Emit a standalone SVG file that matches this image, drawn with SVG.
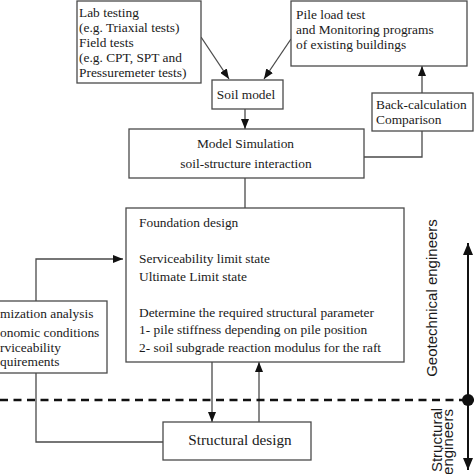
<svg xmlns="http://www.w3.org/2000/svg" width="474" height="474" viewBox="0 0 474 474">
<style>
.box{fill:#fff;stroke:#4a4a4a;stroke-width:1.3}
.t{font-family:"Liberation Serif","Times New Roman",serif;font-size:13.4px;fill:#1a1a1a}
.tm{text-anchor:middle}
.s{font-family:"Liberation Sans",Arial,sans-serif;font-size:15px;fill:#1a1a1a;text-anchor:middle}
.c{fill:none;stroke:#4a4a4a;stroke-width:1.3}
.ax{fill:none;stroke:#111;stroke-width:2}
</style>
<defs>
<marker id="ah" markerUnits="userSpaceOnUse" markerWidth="10" markerHeight="8" refX="10" refY="4" orient="auto">
<path d="M0,0 L10,4 L0,8 z" fill="#111"/>
</marker>
<marker id="ahb" markerUnits="userSpaceOnUse" markerWidth="12" markerHeight="10" refX="12" refY="5" orient="auto">
<path d="M0,0 L12,5 L0,10 z" fill="#111"/>
</marker>
</defs>
<rect width="474" height="474" fill="#fff"/>
<g id="connectors">
<line class="c" x1="201" y1="37" x2="229" y2="79" marker-end="url(#ah)"/>
<line class="c" x1="291" y1="39" x2="264" y2="79" marker-end="url(#ah)"/>
<line class="c" x1="245" y1="109" x2="245" y2="129" marker-end="url(#ah)"/>
<polyline class="c" points="364,157 422,157 422,131"/>
<line class="c" x1="422" y1="93" x2="422" y2="66" marker-end="url(#ah)"/>
<line class="c" x1="245" y1="178" x2="245" y2="208"/>
<polyline class="c" points="36,301 36,259 123,259" marker-end="url(#ah)"/>
<polyline class="c" points="36,373 36,442 163,442"/>
<line class="c" x1="212" y1="362" x2="212" y2="422" marker-end="url(#ah)"/>
<line class="c" x1="259" y1="422" x2="259" y2="362" marker-end="url(#ah)"/>
<line x1="0" y1="400" x2="474" y2="400" stroke="#111" stroke-width="2.5" stroke-dasharray="8,5.5"/>
<line class="ax" x1="468" y1="400" x2="468" y2="243" marker-end="url(#ahb)"/>
<line class="ax" x1="468" y1="400" x2="468" y2="470" marker-end="url(#ahb)"/>
<circle cx="468" cy="400" r="6" fill="#111"/>
</g>
<g id="lab">
<rect class="box" x="77" y="1" width="124" height="82"/>
<text class="t" x="79" y="17">Lab testing</text>
<text class="t" x="79" y="32">(e.g. Triaxial tests)</text>
<text class="t" x="79" y="47">Field tests</text>
<text class="t" x="79" y="62">(e.g. CPT, SPT and</text>
<text class="t" x="79" y="77">Pressuremeter tests)</text>
</g>
<g id="pile">
<rect class="box" x="291" y="1" width="176" height="65"/>
<text class="t" x="296" y="19">Pile load test</text>
<text class="t" x="296" y="34">and Monitoring programs</text>
<text class="t" x="296" y="49">of existing buildings</text>
</g>
<g id="soil">
<rect class="box" x="212" y="80" width="71" height="29"/>
<text class="t tm" x="246" y="99">Soil model</text>
</g>
<g id="backcalc">
<rect class="box" x="372" y="93" width="101" height="38"/>
<text class="t" x="376" y="109">Back-calculation</text>
<text class="t" x="376" y="124">Comparison</text>
</g>
<g id="modelsim">
<rect class="box" x="129" y="129" width="235" height="49"/>
<text class="t tm" x="245.5" y="148">Model Simulation</text>
<text class="t tm" x="246" y="168">soil-structure interaction</text>
</g>
<g id="foundation">
<rect class="box" x="126" y="208" width="278" height="154"/>
<text class="t" x="139" y="227">Foundation design</text>
<text class="t" x="139" y="263">Serviceability limit state</text>
<text class="t" x="139" y="281">Ultimate Limit state</text>
<text class="t" x="139" y="317">Determine the required structural parameter</text>
<text class="t" x="139" y="334">1- pile stiffness depending on pile position</text>
<text class="t" x="139" y="352">2- soil subgrade reaction modulus for the raft</text>
</g>
<g id="optimization">
<rect class="box" x="-2" y="301" width="109" height="72"/>
<text class="t" x="0" y="318">mization analysis</text>
<text class="t" x="0" y="337">onomic conditions</text>
<text class="t" x="0" y="352">rviceability</text>
<text class="t" x="0" y="366">quirements</text>
</g>
<g id="structural">
<rect class="box" x="163" y="422" width="148" height="38"/>
<text class="t tm" x="240" y="445" style="font-size:15.2px">Structural design</text>
</g>
<g id="labels">
<text class="s" transform="translate(437,298) rotate(-90)">Geotechnical engineers</text>
<text class="s" transform="translate(442,440) rotate(-90)">Structural</text>
<text class="s" transform="translate(453,442) rotate(-90)">engineers</text>
</g>
</svg>
